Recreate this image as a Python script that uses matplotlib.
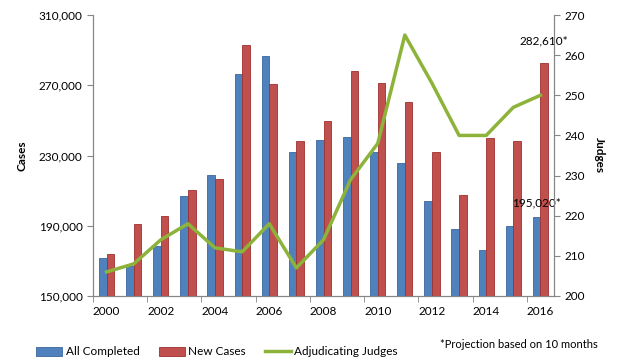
import numpy as np
import matplotlib.pyplot as plt
from matplotlib.ticker import FuncFormatter

years = list(range(2000, 2017))
all_completed = [171800, 167000, 178600, 206900, 218900, 276400, 286600, 232000,
                 238800, 240500, 232000, 225700, 204100, 188200, 176200, 189900, 195020]
new_cases = [173900, 191000, 195500, 210400, 216600, 292900, 270700, 238200,
             249600, 278100, 271300, 260500, 232000, 207500, 240000, 238200, 282610]
judges = [206, 208, 214, 218, 212, 211, 218, 207, 214, 229, 238, 265, 253, 240, 240, 247, 250]

plt.rcParams['font.family'] = ['Lato', 'DejaVu Sans']
plt.rcParams['font.size'] = 8.5

fig = plt.figure(figsize=(6.24, 3.62), dpi=100)
ax = fig.add_axes([93 / 624, 66 / 362, 461 / 624, 281 / 362])
ax2 = ax.twinx()

x = np.arange(len(years))
w = 0.28
ax.bar(x - w / 2, all_completed, w, color='#4F81BD', edgecolor='#3A67A0', linewidth=0.6,
       label='All Completed', zorder=2)
ax.bar(x + w / 2, new_cases, w, color='#C0504D', edgecolor='#A0302D', linewidth=0.6,
       label='New Cases', zorder=2)
ax2.plot(x, judges, color='#8DB33A', linewidth=2.5, label='Adjudicating Judges')

ax.set_xlim(-0.5, len(years) - 0.5)
ax.set_ylim(150000, 310000)
ax.set_yticks(range(150000, 310001, 40000))
ax.yaxis.set_major_formatter(FuncFormatter(lambda v, p: f'{int(v):,}'))
ax2.set_ylim(200, 270)
ax2.set_yticks(range(200, 271, 10))

ax.set_xticks(x[::2])
ax.set_xticklabels([str(y) for y in years[::2]])
ax.set_xticks(np.arange(-0.5, len(years) - 1, 2), minor=True)
ax.tick_params(axis='x', which='major', length=0, pad=7)
ax.tick_params(axis='x', which='minor', length=4, color='#868686')
ax.tick_params(axis='y', length=4, color='#868686')
ax2.tick_params(axis='y', length=4, color='#868686')

for a in (ax, ax2):
    a.spines['top'].set_visible(False)
    for s in ('left', 'right', 'bottom'):
        a.spines[s].set_color('#868686')

ax.set_ylabel('Cases', fontweight='bold', labelpad=8)
ax2.set_ylabel('Judges', fontweight='bold', rotation=270, labelpad=14)

ax.annotate(f'{new_cases[-1]:,}*', (x[-1] + w / 2, new_cases[-1]), xytext=(0, 12),
            textcoords='offset points', ha='center', va='bottom')
ax.annotate(f'{all_completed[-1]:,}*', (x[-1] - w / 2, all_completed[-1]), xytext=(0, 6),
            textcoords='offset points', ha='center', va='bottom')

h1, l1 = ax.get_legend_handles_labels()
h2, l2 = ax2.get_legend_handles_labels()
fig.legend(h1 + h2, l1 + l2, loc='lower left', bbox_to_anchor=(0.045, -0.01), ncol=3,
           frameon=False, handlelength=2.2, handleheight=0.8, columnspacing=1.6,
           handletextpad=0.3, borderaxespad=0.3)
fig.text(0.705, 0.04, '*Projection based on 10 months', fontsize=8)

fig.savefig('out.png', dpi=100)
